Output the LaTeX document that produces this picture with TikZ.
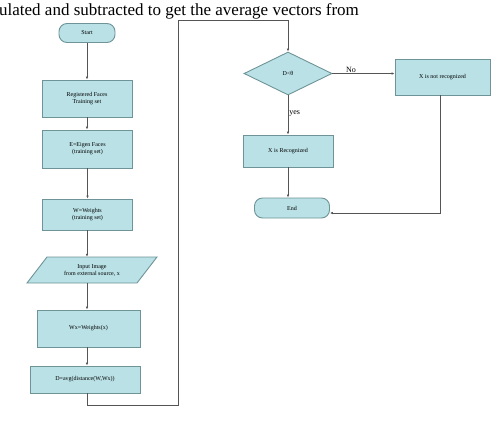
\documentclass[tikz,border=0pt]{standalone}
\usepackage{fontspec}
\setmainfont{Liberation Serif}
\usetikzlibrary{shapes.geometric,arrows.meta}
\definecolor{boxfill}{HTML}{B9E1E6}
\definecolor{boxline}{HTML}{6F9498}
\definecolor{linecol}{HTML}{555555}
\tikzset{
  flowbox/.style={draw=boxline,fill=boxfill,line width=0.9pt,inner sep=1pt,align=center,font=\fontsize{6}{7}\selectfont},
  termbox/.style={flowbox,rounded corners=8pt},
  conn/.style={draw=linecol,line width=0.8pt,-{Latex[length=3pt,width=2.6pt]}},
  lbl/.style={font=\fontsize{8}{9}\selectfont,inner sep=1pt}
}
\begin{document}
\begin{tikzpicture}[x=1pt,y=-1pt]
\useasboundingbox (0,0) rectangle (500,421);
\node[anchor=base west,inner sep=0pt,font=\fontsize{17}{19}\selectfont] (cap) at (-1,15) {ulated and subtracted to get the average vectors from};
% left column
\node[termbox,minimum width=56pt,minimum height=19pt] (start) at (87,33) {Start};
\node[flowbox,minimum width=90pt,minimum height=37pt] (b1) at (87,98.5) {Registered Faces\\Training set};
\node[flowbox,minimum width=90pt,minimum height=38pt] (b2) at (87.5,149) {E=Eigen Faces\\(training set)};
\node[flowbox,minimum width=90pt,minimum height=31pt] (b3) at (87.5,214.5) {W=Weights\\(training set)};
% parallelogram outline, then its text node
\fill[boxfill] (47,257) -- (157,257) -- (137,283) -- (27,283) -- cycle;
\draw[boxline,line width=0.9pt] (47,257) -- (157,257) -- (137,283) -- (27,283) -- cycle;
\node[inner sep=0pt,minimum width=110pt,minimum height=26pt,align=center,font=\fontsize{6}{7}\selectfont] (par) at (92,270) {Input Image\\from external source, x};
\node[flowbox,minimum width=103pt,minimum height=37pt] (b4) at (88.5,328.5) {Wx=Weights(x)};
\node[flowbox,minimum width=110pt,minimum height=27pt] (b5) at (85,379.5) {D=avg(distance(W,Wx))};
% right column
\node[flowbox,shape=diamond,inner sep=0pt,minimum width=88pt,minimum height=43pt] (dia) at (288,73.5) {D<θ};
\node[flowbox,minimum width=95pt,minimum height=36pt] (nr) at (442.5,77) {X is not recognized};
\node[flowbox,minimum width=90pt,minimum height=32pt] (rec) at (288,151) {X is Recognized};
\node[termbox,minimum width=75pt,minimum height=20pt] (end) at (292,208) {End};
\coordinate (c1) at (87,405);
\coordinate (c2) at (178,405);
\coordinate (c3) at (178,20);
\coordinate (c4) at (288,20);
\coordinate (c5) at (440,0);
% connectors
\draw[conn] (start) -- (b1);
\draw[conn] (b1) -- (b1 |- b2.north);
\draw[conn] (b2) -- (b2 |- b3.north);
\draw[conn] (b3.south -| start) -- (start |- par.north);
\draw[conn] (start |- par.south) -- (start |- b4.north);
\draw[conn] (start |- b4.south) -- (start |- b5.north);
\draw[conn] (start |- b5.south) -- (c1) -- (c2) -- (c3) -- (c4) -- (dia.north);
\draw[conn] (dia.east) -- (dia.east -| nr.west) node[lbl,pos=0.3,above] {No};
\draw[conn] (dia.south) -- (rec.north) node[lbl,pos=0.45,right] {yes};
\draw[conn] (rec) -- (rec |- end.north);
\draw[conn] (nr.south -| c5) |- ([yshift=-5pt]end.east);
\end{tikzpicture}
\end{document}
